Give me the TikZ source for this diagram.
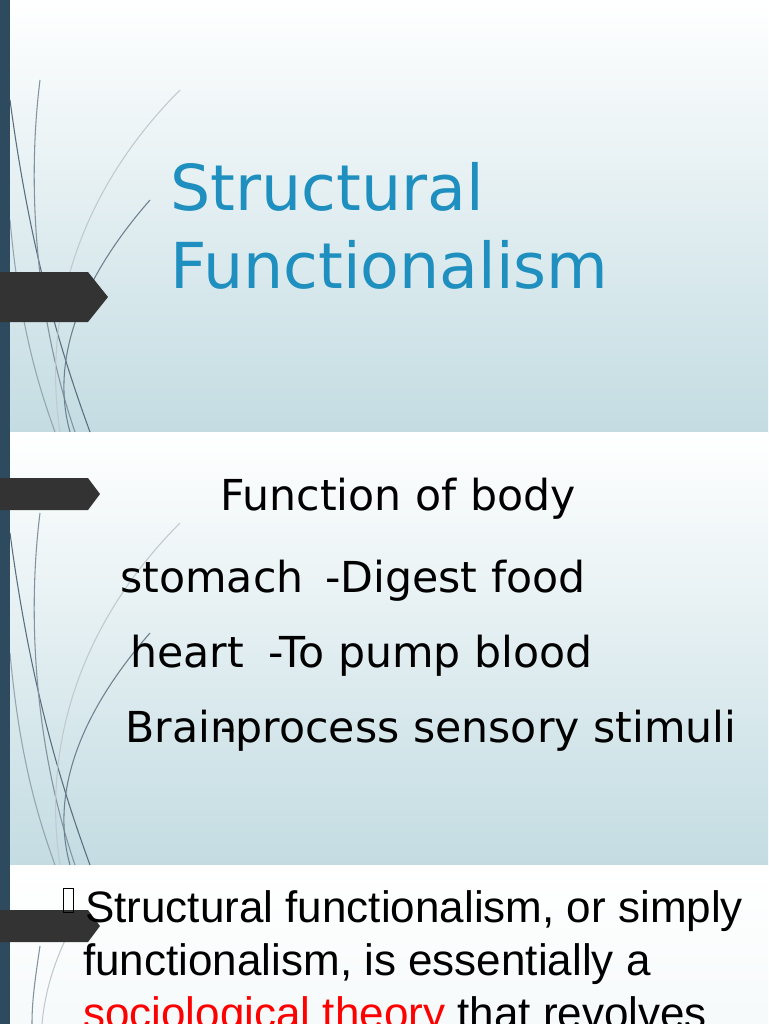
\documentclass[tikz,border=0pt]{standalone}
\usepackage{fontspec}
\setmainfont{DejaVu Sans}
\newfontfamily\arialf{Liberation Sans}
\begin{document}
\begin{tikzpicture}[x=0.75pt,y=-0.75pt,
  tab/.style={fill=black!80,draw=none},
  deco/.style={draw=#1,line width=0.8pt},
  txt/.style={anchor=base west,inner sep=0pt,font=\fontsize{32}{36}\selectfont},
  tx3/.style={anchor=base west,inner sep=0pt,font=\arialf\fontsize{33}{38}\selectfont}]
\useasboundingbox (0,0) rectangle (768,1024);
\definecolor{slidebot}{HTML}{C3DCE2}
\definecolor{barc}{HTML}{2E4A5E}
\definecolor{titc}{HTML}{1E8FBE}
% slide backgrounds
\shade[top color=white,bottom color=slidebot] (0,0) rectangle (768,432);
\shade[top color=white,bottom color=slidebot] (0,433) rectangle (768,865);
\shade[top color=white,bottom color=white!85!slidebot] (0,866) rectangle (768,1024);
\fill[white] (0,432) rectangle (768,433);
\fill[white] (0,865) rectangle (768,866);
% decorative curves slide 1
\begin{scope}
\clip (0,0) rectangle (768,432);
\draw[deco=barc!80] (10,100) .. controls (30,250) and (60,350) .. (90,432);
\draw[deco=barc!60] (40,80) .. controls (25,200) and (40,330) .. (75,432);
\draw[deco=barc!70] (150,200) .. controls (80,280) and (50,360) .. (70,432);
\draw[deco=white!70!barc] (180,90) .. controls (90,180) and (40,300) .. (60,432);
\draw[deco=barc!50] (10,220) .. controls (20,330) and (40,390) .. (55,432);
\end{scope}
\begin{scope}
\clip (0,433) rectangle (768,865);
\draw[deco=barc!80] (10,533) .. controls (30,683) and (60,783) .. (90,865);
\draw[deco=barc!60] (40,513) .. controls (25,633) and (40,763) .. (75,865);
\draw[deco=barc!70] (150,633) .. controls (80,713) and (50,793) .. (70,865);
\draw[deco=white!70!barc] (180,523) .. controls (90,613) and (40,733) .. (60,865);
\draw[deco=barc!50] (10,653) .. controls (20,763) and (40,823) .. (55,865);
\end{scope}
\begin{scope}
\clip (0,866) rectangle (768,1024);
\draw[deco=barc!60] (40,946) .. controls (35,980) and (32,1000) .. (32,1024);
\draw[deco=white!70!barc] (70,930) .. controls (55,960) and (45,990) .. (42,1024);
\end{scope}
% left bar
\fill[barc] (0,0) rectangle (10,1024);
% tabs
\fill[tab] (0,272) -- (88,272) -- (108,297) -- (88,322) -- (0,322) -- cycle;
\fill[tab] (0,478) -- (88,478) -- (100,494) -- (88,510) -- (0,510) -- cycle;
\fill[tab] (0,910) -- (88,910) -- (100,926) -- (88,942) -- (0,942) -- cycle;
% slide 1 title
\node[anchor=base west,inner sep=0pt,text=titc,font=\fontsize{47.5}{56}\selectfont] (t1) at (170,210) {Structural};
\node[anchor=base west,inner sep=0pt,text=titc,font=\fontsize{47.5}{56}\selectfont] (t2) at (170,288) {Functionalism};
% slide 2
\node[txt] (h) at (220,510) {Function of body};
\node[txt] (s1) at (120,592) {stomach};
\node[txt] (s2) at (325,592) {-Digest food};
\node[txt] (r1) at (130,667) {heart};
\node[txt] (r2) at (268,667) {-To pump blood};
\node[txt] (b1) at (125,742) {Brain};
\node[txt] (b2) at (220,742) {-process sensory stimuli};
% slide 3
\draw[line width=0.6pt] (63,888) rectangle (73,912);
\node[tx3] (l1) at (85,922) {Structural functionalism, or simply};
\node[tx3] (l2) at (83,975) {functionalism, is essentially a};
\node[tx3] (l3) at (83,1028) {\textcolor{red}{sociological theory} that revolves};
\end{tikzpicture}
\end{document}
